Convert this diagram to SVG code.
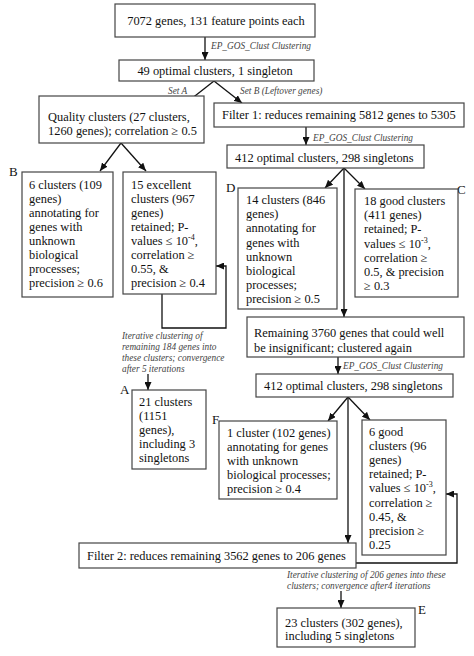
<svg xmlns="http://www.w3.org/2000/svg" width="474" height="656" viewBox="0 0 474 656">
<defs>
<marker id="ah" markerWidth="8" markerHeight="7" refX="8" refY="3.5" orient="auto" markerUnits="userSpaceOnUse">
<path d="M0,0 L8,3.5 L0,7 z" fill="#111"/>
</marker>
<style>
.box{fill:#fff;stroke:#444;stroke-width:1.2}
.t{font-family:"Liberation Serif","Times New Roman",serif;font-size:12.4px;fill:#111}
.lab{font-family:"Liberation Serif","Times New Roman",serif;font-size:13px;fill:#111}
.it{font-family:"Liberation Serif","Times New Roman",serif;font-size:9.3px;font-style:italic;fill:#444}
.c{fill:none;stroke:#111;stroke-width:1.3}
.a{fill:none;stroke:#111;stroke-width:1.3;marker-end:url(#ah)}
</style>
</defs>
<rect width="474" height="656" fill="#fff"/>

<g id="connectors">
<line class="a" x1="205" y1="37" x2="205" y2="60"/>
<line class="a" x1="214" y1="81" x2="186" y2="103"/>
<line class="a" x1="214" y1="81" x2="242" y2="103"/>
<line class="a" x1="306" y1="127" x2="306" y2="145"/>
<line class="a" x1="121" y1="143" x2="100" y2="171"/>
<line class="a" x1="121" y1="143" x2="146" y2="171"/>
<polyline class="a" points="162,294 162,328 226,328 226,266 216,266"/>
<line class="a" x1="148" y1="374" x2="148" y2="390"/>
<line class="a" x1="344" y1="168" x2="325" y2="188"/>
<line class="a" x1="344" y1="168" x2="365" y2="189"/>
<line class="a" x1="344" y1="168" x2="344" y2="317"/>
<line class="a" x1="338" y1="357" x2="338" y2="374"/>
<line class="a" x1="348" y1="397" x2="328" y2="421"/>
<line class="a" x1="348" y1="397" x2="370" y2="420"/>
<line class="a" x1="348" y1="397" x2="348" y2="543"/>
<polyline class="a" points="356,563 457,563 457,494 446,494"/>
<line class="a" x1="341" y1="591" x2="341" y2="608"/>
<text class="it" x="211" y="49">EP_GOS_Clust Clustering</text>
<text class="it" x="168" y="94">Set A</text>
<text class="it" x="240" y="94">Set B (Leftover genes)</text>
<text class="it" x="313" y="141">EP_GOS_Clust Clustering</text>
<text class="it" x="122"><tspan x="122" y="339">Iterative clustering of</tspan><tspan x="122" y="350">remaining 184 genes into</tspan><tspan x="122" y="361">these clusters; convergence</tspan><tspan x="122" y="372">after 5 iterations</tspan></text>
<text class="it" x="343" y="369">EP_GOS_Clust Clustering</text>
<text class="it"><tspan x="287" y="578">Iterative clustering of 206 genes into these</tspan><tspan x="287" y="589">clusters; convergence after4 iterations</tspan></text>
</g>

<g id="n1">
<rect class="box" x="115" y="4" width="200" height="33"/>
<text class="t" x="216" y="24.5" text-anchor="middle">7072 genes, 131 feature points each</text>
</g>
<g id="n2">
<rect class="box" x="119" y="60" width="195" height="21"/>
<text class="t" x="215" y="74.5" text-anchor="middle">49 optimal clusters, 1 singleton</text>
</g>
<g id="n3">
<rect class="box" x="39" y="96" width="165" height="47"/>
<text class="t"><tspan x="48" y="120.5">Quality clusters (27 clusters,</tspan><tspan x="48" y="134.5">1260 genes); correlation ≥ 0.5</tspan></text>
</g>
<g id="n4">
<rect class="box" x="214" y="103" width="250" height="24"/>
<text class="t" x="222" y="119">Filter 1: reduces remaining 5812 genes to 5305</text>
</g>
<g id="n5">
<rect class="box" x="227" y="145" width="197" height="23"/>
<text class="t" x="235" y="161.5">412 optimal clusters, 298 singletons</text>
</g>
<g id="nB">
<text class="lab" x="9" y="175.5">B</text>
<rect class="box" x="22" y="172" width="91" height="125"/>
<text class="t"><tspan x="29" y="188.5">6 clusters (109</tspan><tspan x="29" y="202.6">genes)</tspan><tspan x="29" y="216.7">annotating for</tspan><tspan x="29" y="230.8">genes with</tspan><tspan x="29" y="244.9">unknown</tspan><tspan x="29" y="259">biological</tspan><tspan x="29" y="273.1">processes;</tspan><tspan x="29" y="287.2">precision ≥ 0.6</tspan></text>
</g>
<g id="nExcellent">
<rect class="box" x="123" y="172" width="93" height="122"/>
<text class="t"><tspan x="131" y="188.5">15 excellent</tspan><tspan x="131" y="202.6">clusters (967</tspan><tspan x="131" y="216.7">genes)</tspan><tspan x="131" y="230.8">retained; P-</tspan><tspan x="131" y="244.9">values ≤ 10</tspan><tspan dy="-5" font-size="8">-4</tspan><tspan dy="5">,</tspan><tspan x="131" y="259">correlation ≥</tspan><tspan x="131" y="273.1">0.55, &amp;</tspan><tspan x="131" y="287.2">precision ≥ 0.4</tspan></text>
</g>
<g id="nD">
<text class="lab" x="226" y="192">D</text>
<rect class="box" x="238" y="188" width="99" height="121"/>
<text class="t"><tspan x="246" y="204">14 clusters (846</tspan><tspan x="246" y="218.2">genes)</tspan><tspan x="246" y="232.4">annotating for</tspan><tspan x="246" y="246.6">genes with</tspan><tspan x="246" y="260.8">unknown</tspan><tspan x="246" y="275">biological</tspan><tspan x="246" y="289.2">processes;</tspan><tspan x="246" y="303.4">precision ≥ 0.5</tspan></text>
</g>
<g id="nC">
<text class="lab" x="457" y="194">C</text>
<rect class="box" x="355" y="189" width="103" height="108"/>
<text class="t"><tspan x="364" y="205">18 good clusters</tspan><tspan x="364" y="219.2">(411 genes)</tspan><tspan x="364" y="233.4">retained; P-</tspan><tspan x="364" y="247.6">values ≤ 10</tspan><tspan dy="-5" font-size="8">-3</tspan><tspan dy="5">,</tspan><tspan x="364" y="261.8">correlation ≥</tspan><tspan x="364" y="276">0.5, &amp; precision</tspan><tspan x="364" y="290.2">≥ 0.3</tspan></text>
</g>
<g id="nA">
<text class="lab" x="120" y="394">A</text>
<rect class="box" x="132" y="390" width="74" height="79"/>
<text class="t"><tspan x="139" y="406">21 clusters</tspan><tspan x="139" y="420">(1151</tspan><tspan x="139" y="434">genes),</tspan><tspan x="139" y="448">including 3</tspan><tspan x="139" y="462">singletons</tspan></text>
</g>
<g id="nRemaining">
<rect class="box" x="247" y="317" width="217" height="40"/>
<text class="t"><tspan x="254" y="337">Remaining 3760 genes that could well</tspan><tspan x="254" y="352">be insignificant; clustered again</tspan></text>
</g>
<g id="n412b">
<rect class="box" x="256" y="374" width="197" height="23"/>
<text class="t" x="264" y="390">412 optimal clusters, 298 singletons</text>
</g>
<g id="nF">
<text class="lab" x="212" y="424">F</text>
<rect class="box" x="219" y="421" width="118" height="78"/>
<text class="t"><tspan x="227" y="437">1 cluster (102 genes)</tspan><tspan x="227" y="451">annotating for genes</tspan><tspan x="227" y="465">with unknown</tspan><tspan x="227" y="479">biological processes;</tspan><tspan x="227" y="493">precision ≥ 0.4</tspan></text>
</g>
<g id="nGood6">
<rect class="box" x="362" y="420" width="84" height="135"/>
<text class="t"><tspan x="369" y="435.5">6 good</tspan><tspan x="369" y="449.7">clusters (96</tspan><tspan x="369" y="463.9">genes)</tspan><tspan x="369" y="478.1">retained; P-</tspan><tspan x="369" y="492.3">values ≤ 10</tspan><tspan dy="-5" font-size="8">-3</tspan><tspan dy="5">,</tspan><tspan x="369" y="506.5">correlation ≥</tspan><tspan x="369" y="520.7">0.45, &amp;</tspan><tspan x="369" y="534.9">precision ≥</tspan><tspan x="369" y="549.1">0.25</tspan></text>
</g>
<g id="nFilter2">
<rect class="box" x="79" y="543" width="277" height="25"/>
<text class="t" x="87" y="559.5">Filter 2: reduces remaining 3562 genes to 206 genes</text>
</g>
<g id="nE">
<text class="lab" x="418" y="614">E</text>
<rect class="box" x="277" y="608" width="138" height="39"/>
<text class="t"><tspan x="285" y="627">23 clusters (302 genes),</tspan><tspan x="285" y="640">including 5 singletons</tspan></text>
</g>
</svg>
